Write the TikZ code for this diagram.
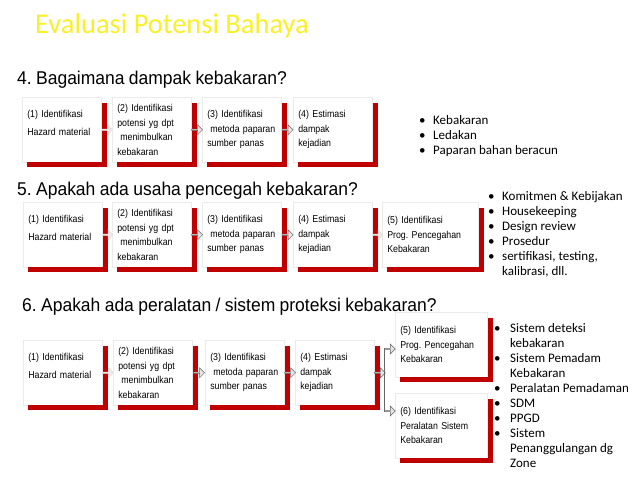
\documentclass[tikz,border=0pt]{standalone}
\usepackage{fontspec}
\setmainfont{Carlito}
\newfontfamily\boxfont[FakeStretch=0.88,WordSpace=0.85]{Liberation Sans}
\newfontfamily\headfont[FakeStretch=0.945,WordSpace=0.9]{Liberation Sans}
\usetikzlibrary{shapes.arrows,calc}
\definecolor{barred}{RGB}{192,0,0}
\definecolor{titleyellow}{RGB}{250,240,40}
\frenchspacing
\begin{document}
\frenchspacing
\begin{tikzpicture}[x=1pt,y=-1pt,
  hbox/.style={fill=white, draw=black!8, line width=0.6pt, text width=#1, minimum height=65pt,
    inner xsep=5pt, inner ysep=0pt, align=left, anchor=north west,
    font=\boxfont\fontsize{10}{14.5}\selectfont},
  hbox/.default=69pt,
  blockarrow/.style={single arrow, minimum height=11pt, minimum width=10pt,
    single arrow head extend=2pt, inner sep=0pt, fill=black!10, draw=black!60, line width=0.5pt},
  fadearrow/.style={blockarrow, draw=black!12, fill=black!8},
  heading/.style={anchor=base west, inner sep=0pt, font=\headfont\fontsize{18.5}{22}\selectfont},
  bullets/.style={anchor=base west, inner sep=0pt, font=\fontsize{13}{15}\selectfont},
  forkline/.style={draw=black!60, line width=0.6pt}
]
\useasboundingbox (0,0) rectangle (638,478);
\fill[white] (0,0) rectangle (638,478);

% title and headings
\node[anchor=base west, inner sep=0pt, text=titleyellow, font=\fontsize{28.5}{32}\selectfont] (title) at (35,34) {Evaluasi Potensi Bahaya};
\node[heading] (h4) at (17,85) {4. Bagaimana dampak kebakaran?};
\node[heading] (h5) at (17,196) {5. Apakah ada usaha pencegah kebakaran?};
\node[heading] (h6) at (22,312) {6. Apakah ada peralatan / sistem proteksi kebakaran?};

% row 1
\node[hbox] (a1) at (22,97) {(1) Identifikasi\\[3.5pt]Hazard material\\\mbox{}};
\node[hbox] (a2) at (112,97) {(2) Identifikasi\\potensi yg dpt\\\hspace*{3pt}menimbulkan\\kebakaran};
\node[hbox] (a3) at (202,97) {(3) Identifikasi\\\hspace*{3pt}metoda paparan\\sumber panas};
\node[hbox] (a4) at (293,97) {(4) Estimasi\\dampak\\kejadian};

% row 2
\node[hbox] (b1) at (23,202) {(1) Identifikasi\\[3.5pt]Hazard material\\\mbox{}};
\node[hbox] (b2) at (112,202) {(2) Identifikasi\\potensi yg dpt\\\hspace*{3pt}menimbulkan\\kebakaran};
\node[hbox] (b3) at (202,202) {(3) Identifikasi\\\hspace*{3pt}metoda paparan\\sumber panas};
\node[hbox] (b4) at (293,202) {(4) Estimasi\\dampak\\kejadian};
\node[hbox=86pt] (b5) at (382,202) {(5) Identifikasi\\Prog. Pencegahan\\Kebakaran};

% row 3
\node[hbox] (c1) at (23,340) {(1) Identifikasi\\[3.5pt]Hazard material\\\mbox{}};
\node[hbox] (c2) at (113,340) {(2) Identifikasi\\potensi yg dpt\\\hspace*{3pt}menimbulkan\\kebakaran};
\node[hbox] (c3) at (205,340) {(3) Identifikasi\\\hspace*{3pt}metoda paparan\\sumber panas};
\node[hbox] (c4) at (295,340) {(4) Estimasi\\dampak\\kejadian};
\node[hbox=82pt] (c5) at (395,312) {(5) Identifikasi\\Prog. Pencegahan\\Kebakaran};
\node[hbox=82pt] (c6) at (395,393) {(6) Identifikasi\\Peralatan Sistem\\Kebakaran};

% red L bars
\foreach \n in {a1,a2,a3,a4,b1,b2,b3,b4,b5,c1,c2,c3,c4,c5,c6}{
  \fill[barred] ($(\n.north east)+(0,6)$) rectangle ($(\n.south east)+(5,4)$);
  \fill[barred] ($(\n.south west)+(5,-1)$) rectangle ($(\n.south east)+(5,4)$);
}

% connectors row 1
\node[fadearrow] (ra12) at ($(a1.east)!0.5!(a2.west)$) {};
\node[blockarrow] (ra23) at ($(a2.east)!0.5!(a3.west)$) {};
\node[blockarrow] (ra34) at ($(a3.east)!0.5!(a4.west)$) {};
% row 2
\node[fadearrow] (rb12) at ($(b1.east)!0.5!(b2.west)$) {};
\node[blockarrow] (rb23) at ($(b2.east)!0.5!(b3.west)$) {};
\node[blockarrow] (rb34) at ($(b3.east)!0.5!(b4.west)$) {};
\node[fadearrow] (rb45) at ($(b4.east)!0.5!(b5.west)$) {};
% row 3
\node[fadearrow] (rc12) at ($(c1.east)!0.5!(c2.west)$) {};
\node[blockarrow] (rc23) at ($(c2.east)!0.5!(c3.west)$) {};
\node[blockarrow] (rc34) at ($(c3.east)!0.5!(c4.west)$) {};
\node[blockarrow] (rc4) at ($(c4.east)+(5,0)$) {};
\coordinate (f1) at (384,349);
\coordinate (f2) at (384,411);
\draw[forkline] (f1) -- (f2);
\node[blockarrow, anchor=tail] (rc5) at (f1) {};
\node[blockarrow, anchor=tail] (rc6) at (f2) {};

% bullet lists
\node[bullets] (l1) at (419,124.5) {\begin{tabular}[t]{@{}p{14pt}@{}l@{}}
•&Kebakaran\\
•&Ledakan\\
•&Paparan bahan beracun
\end{tabular}};
\node[bullets] (l2) at (488,201) {\begin{tabular}[t]{@{}p{14pt}@{}l@{}}
•&Komitmen \& Kebijakan\\
•&Housekeeping\\
•&Design review\\
•&Prosedur\\
•&sertifikasi, testing,\\
&kalibrasi, dll.
\end{tabular}};
\node[bullets] (l3) at (494,332.5) {\begin{tabular}[t]{@{}p{16pt}@{}l@{}}
•&Sistem deteksi\\
&kebakaran\\
•&Sistem Pemadam\\
&Kebakaran\\
•&Peralatan Pemadaman\\
•&SDM\\
•&PPGD\\
•&Sistem\\
&Penanggulangan dg\\
&Zone
\end{tabular}};
\end{tikzpicture}
\end{document}
